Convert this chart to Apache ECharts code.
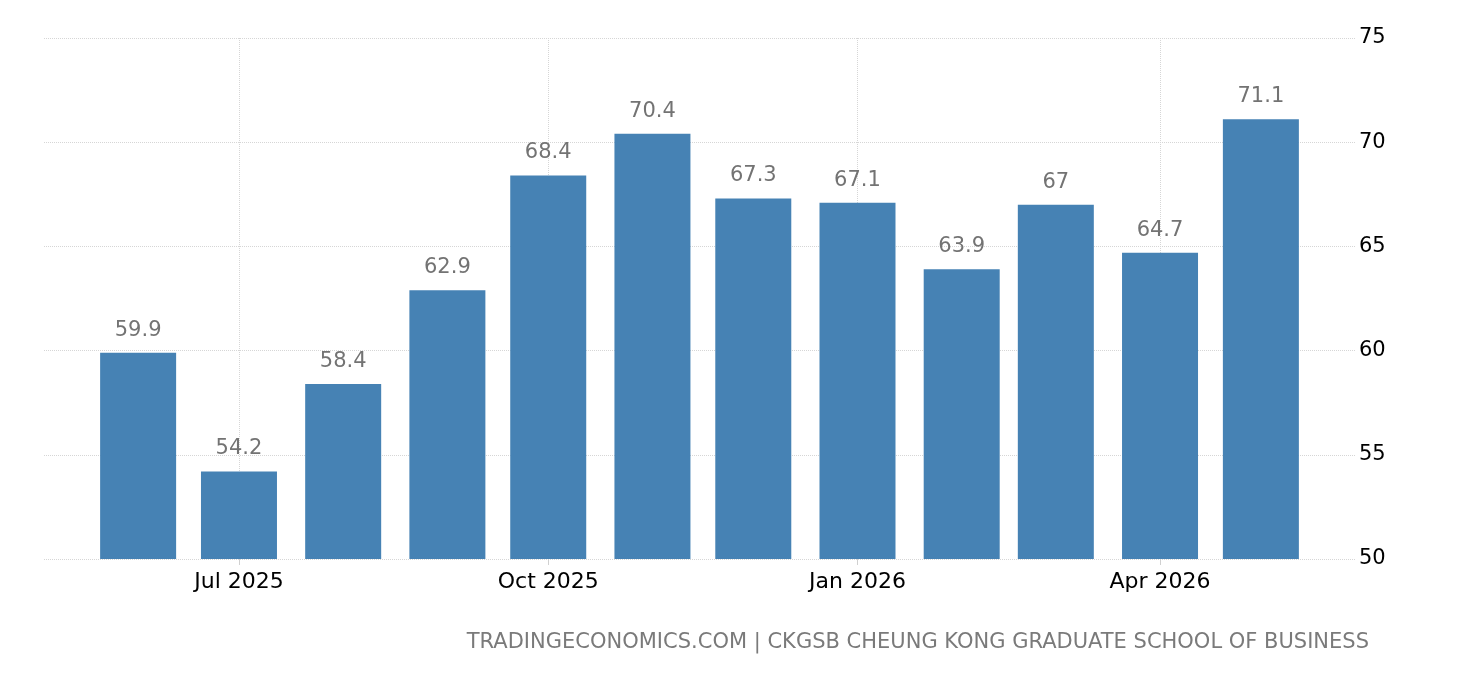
<!DOCTYPE html>
<html>
<head>
<meta charset="utf-8">
<script src="https://cdn.jsdelivr.net/npm/echarts@6/dist/echarts.min.js"></script>
<style>
  html, body { margin: 0; padding: 0; background: #fff; }
  #container { width: 1460px; height: 680px; }
</style>
</head>
<body>
<div id="container"></div>
<script>
var months = ['2025-06', '2025-07', '2025-08', '2025-09', '2025-10', '2025-11',
              '2025-12', '2026-01', '2026-02', '2026-03', '2026-04', '2026-05'];
var values = [59.9, 54.2, 58.4, 62.9, 68.4, 70.4, 67.3, 67.1, 63.9, 67, 64.7, 71.1];
var yTicks = [50, 55, 60, 65, 70, 75];
var monthNames = ['Jan', 'Feb', 'Mar', 'Apr', 'May', 'Jun', 'Jul', 'Aug', 'Sep', 'Oct', 'Nov', 'Dec'];
var source = 'TRADINGECONOMICS.COM | CKGSB CHEUNG KONG GRADUATE SCHOOL OF BUSINESS';

var DAY = 24 * 3600 * 1000;
function toTime(m) {
    var p = m.split('-');
    return new Date(+p[0], +p[1] - 1, 1).getTime();
}

var dom = document.getElementById('container');
var myChart = echarts.init(dom);

var data = months.map(function (m, i) { return [toTime(m), values[i]]; });
var xMin = data[0][0] - 28 * DAY;
var xMax = data[data.length - 1][0] + 28 * DAY;

var font = 'DejaVu Sans';
var barW = 76;

// bars drawn as custom rects so the time axis extent is not padded for bar width
function renderBar(params, api) {
    var top = api.coord([api.value(0), api.value(1)]);
    var base = api.coord([api.value(0), yTicks[0]]);
    return {
        type: 'rect',
        shape: { x: top[0] - barW / 2, y: top[1], width: barW, height: base[1] - top[1] },
        style: { fill: '#4682b4' },
        textContent: {
            style: {
                text: String(api.value(1)),
                fill: '#737373',
                font: '21px "' + font + '"'
            }
        },
        textConfig: { position: 'top', distance: 12 }
    };
}

var option = {
    animation: false,
    backgroundColor: '#fff',
    title: {
        text: source,
        right: 86,
        top: 627,
        textStyle: { fontFamily: font, fontSize: 21, fontWeight: 'normal', color: '#7a7a7a' }
    },
    grid: { left: 44, right: 105, top: 38, bottom: 121 },
    xAxis: {
        type: 'time',
        min: xMin,
        max: xMax,
        splitNumber: 4,
        minInterval: 85 * DAY,
        maxInterval: 95 * DAY,
        axisLine: { show: false },
        axisTick: { show: true, length: 6, lineStyle: { color: '#d0d0d0' } },
        splitLine: {
            show: true,
            showMinLine: false,
            showMaxLine: false,
            lineStyle: { color: '#d6d6d6', type: 'dotted' }
        },
        axisLabel: {
            showMinLabel: false,
            showMaxLabel: false,
            margin: 12,
            color: '#000',
            fontFamily: font,
            fontSize: 22,
            formatter: function (v) {
                var d = new Date(v);
                return monthNames[d.getMonth()] + ' ' + d.getFullYear();
            }
        }
    },
    yAxis: {
        type: 'value',
        position: 'right',
        min: yTicks[0],
        max: yTicks[yTicks.length - 1],
        interval: 5,
        axisLine: { show: false },
        axisTick: { show: false },
        splitLine: { lineStyle: { color: '#d6d6d6', type: 'dotted' } },
        axisLabel: { margin: 4, color: '#000', fontFamily: font, fontSize: 21 }
    },
    series: [{
        type: 'custom',
        renderItem: renderBar,
        encode: { x: 0, y: 1 },
        data: data
    }]
};

myChart.setOption(option);
</script>
</body>
</html>
